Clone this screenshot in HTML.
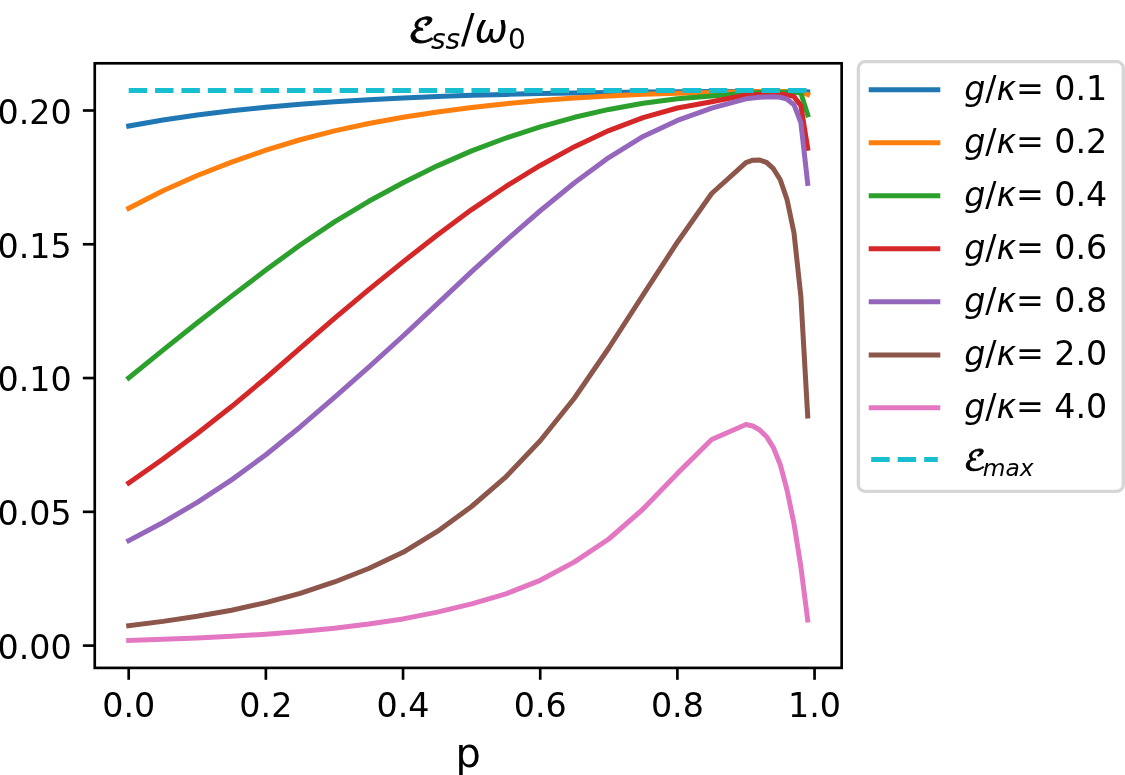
<!DOCTYPE html>
<html lang="en"><head><meta charset="utf-8"><title>Steady-state ergotropy vs p</title>
<style>
html,body{margin:0;padding:0;background:#fff;}
body{width:1125px;height:775px;overflow:hidden;}
svg{display:block;}
text{font-family:"DejaVu Sans","Liberation Sans",sans-serif;fill:#000;}
.it{font-style:oblique;}
</style></head><body>
<svg width="1125" height="775" viewBox="0 0 1125 775">
<rect width="1125" height="775" fill="#ffffff"/>
<defs><clipPath id="axclip"><rect x="94.75" y="63.3" width="746.9" height="604.6"/></clipPath></defs>
<g clip-path="url(#axclip)" fill="none" stroke-width="5.00" stroke-linecap="square" stroke-linejoin="round">
<polyline points="128.70,125.99 162.99,120.00 197.29,115.01 231.58,110.81 265.87,107.24 300.16,104.21 334.46,101.70 368.75,99.67 403.04,97.98 437.34,96.55 471.63,95.36 505.92,94.39 540.22,93.59 574.51,92.92 608.80,92.39 643.10,91.98 677.39,91.70 711.68,91.45 745.97,91.45 752.83,91.45 759.69,91.45 766.55,91.45 773.41,91.45 780.27,91.45 787.13,91.45 793.98,91.45 800.84,91.45 807.70,91.85" stroke="#1f77b4"/>
<polyline points="128.70,208.28 162.99,190.82 197.29,175.54 231.58,162.08 265.87,150.20 300.16,139.76 334.46,130.90 368.75,123.55 403.04,117.32 437.34,111.97 471.63,107.45 505.92,103.70 540.22,100.58 574.51,97.98 608.80,95.88 643.10,94.28 677.39,93.14 711.68,92.50 745.97,91.80 752.83,91.67 759.69,91.55 766.55,91.50 773.41,91.50 780.27,91.50 787.13,91.50 793.98,91.50 800.84,91.70 807.70,94.50" stroke="#ff7f0e"/>
<polyline points="128.70,377.87 162.99,350.10 197.29,322.82 231.58,296.11 265.87,270.06 300.16,245.01 334.46,221.90 368.75,201.29 403.04,182.72 437.34,165.84 471.63,150.90 505.92,138.01 540.22,126.86 574.51,117.31 608.80,109.42 643.10,103.26 677.39,98.82 711.68,95.90 745.97,93.30 752.83,92.88 759.69,92.51 766.55,92.30 773.41,92.23 780.27,92.20 787.13,92.20 793.98,92.20 800.84,93.10 807.70,114.80" stroke="#2ca02c"/>
<polyline points="128.70,482.98 162.99,459.02 197.29,433.55 231.58,406.55 265.87,377.98 300.16,348.15 334.46,318.33 368.75,289.64 403.04,261.89 437.34,234.94 471.63,209.58 505.92,186.46 540.22,165.45 574.51,146.68 608.80,130.57 643.10,117.59 677.39,108.03 711.68,101.80 745.97,95.00 752.83,94.70 759.69,94.50 766.55,94.30 773.41,94.30 780.27,94.30 787.13,94.80 793.98,96.60 800.84,105.50 807.70,148.30" stroke="#d62728"/>
<polyline points="128.70,540.66 162.99,522.52 197.29,502.35 231.58,479.87 265.87,454.76 300.16,426.96 334.46,397.41 368.75,367.16 403.04,336.01 437.34,303.85 471.63,271.68 505.92,240.57 540.22,210.74 574.51,182.69 608.80,157.52 643.10,136.44 677.39,120.42 711.68,108.10 745.97,98.80 752.83,97.90 759.69,97.30 766.55,96.90 773.41,96.80 780.27,97.30 787.13,99.20 793.98,104.70 800.84,122.50 807.70,183.40" stroke="#9467bd"/>
<polyline points="128.70,625.64 162.99,621.39 197.29,616.33 231.58,610.19 265.87,602.64 300.16,593.29 334.46,581.96 368.75,568.54 403.04,552.30 437.34,531.40 471.63,506.50 505.92,476.80 540.22,440.70 574.51,398.00 608.80,348.00 643.10,294.90 677.39,242.20 711.68,193.50 745.97,162.60 752.83,160.20 759.69,160.00 766.55,162.40 773.41,168.70 780.27,179.70 787.13,199.90 793.98,232.80 800.84,296.20 807.70,416.00" stroke="#8c564b"/>
<polyline points="128.70,640.47 162.99,639.34 197.29,637.98 231.58,636.30 265.87,634.20 300.16,631.53 334.46,628.19 368.75,624.09 403.04,618.91 437.34,612.11 471.63,603.90 505.92,593.80 540.22,580.30 574.51,561.90 608.80,539.00 643.10,509.00 677.39,473.40 711.68,439.50 745.97,424.50 752.83,426.00 759.69,430.00 766.55,436.70 773.41,447.60 780.27,464.70 787.13,490.50 793.98,523.70 800.84,566.50 807.70,620.00" stroke="#e377c2"/>
</g>
<line x1="128.70" y1="90.55" x2="807.70" y2="90.55" stroke="#17becf" stroke-width="5.0" stroke-dasharray="18.45 7.92" fill="none"/>
<rect x="94.75" y="63.3" width="746.90" height="604.60" fill="none" stroke="#000" stroke-width="2.67" stroke-linejoin="miter"/>
<g stroke="#000" stroke-width="2.67">
<line x1="128.70" y1="667.9" x2="128.70" y2="679.80"/>
<line x1="265.87" y1="667.9" x2="265.87" y2="679.80"/>
<line x1="403.04" y1="667.9" x2="403.04" y2="679.80"/>
<line x1="540.22" y1="667.9" x2="540.22" y2="679.80"/>
<line x1="677.39" y1="667.9" x2="677.39" y2="679.80"/>
<line x1="814.56" y1="667.9" x2="814.56" y2="679.80"/>
<line x1="94.75" y1="645.60" x2="82.85" y2="645.60"/>
<line x1="94.75" y1="511.83" x2="82.85" y2="511.83"/>
<line x1="94.75" y1="378.05" x2="82.85" y2="378.05"/>
<line x1="94.75" y1="244.27" x2="82.85" y2="244.27"/>
<line x1="94.75" y1="110.50" x2="82.85" y2="110.50"/>
</g>
<g font-size="33.33px">
<text transform="translate(128.70,716.6) scale(1,1.02)" text-anchor="middle">0.0</text>
<text transform="translate(265.87,716.6) scale(1,1.02)" text-anchor="middle">0.2</text>
<text transform="translate(403.04,716.6) scale(1,1.02)" text-anchor="middle">0.4</text>
<text transform="translate(540.22,716.6) scale(1,1.02)" text-anchor="middle">0.6</text>
<text transform="translate(677.39,716.6) scale(1,1.02)" text-anchor="middle">0.8</text>
<text transform="translate(814.56,716.6) scale(1,1.02)" text-anchor="middle">1.0</text>
<text transform="translate(71.7,658.90) scale(1,1.025)" text-anchor="end">0.00</text>
<text transform="translate(71.7,525.12) scale(1,1.025)" text-anchor="end">0.05</text>
<text transform="translate(71.7,391.35) scale(1,1.025)" text-anchor="end">0.10</text>
<text transform="translate(71.7,257.57) scale(1,1.025)" text-anchor="end">0.15</text>
<text transform="translate(71.7,123.80) scale(1,1.025)" text-anchor="end">0.20</text>
</g>
<text x="468.3" y="766.9" font-size="40px" text-anchor="middle">p</text>
<g font-size="40px"><text transform="translate(407.8,42.1) scale(1.22,1)" font-size="33px" style="font-family:'DejaVu Math TeX Gyre','DejaVu Sans',sans-serif" stroke="#000" stroke-width="0.9">ℰ</text><text x="430.9" y="49.0" font-size="28px" class="it">ss</text><text x="461.1" y="42.6">/</text><text x="474.6" y="42.4" class="it">ω</text><text x="508.0" y="49.0" font-size="28px">0</text></g>
<rect x="858.4" y="61.6" width="264.90" height="429.80" rx="6.67" ry="6.67" fill="#ffffff" fill-opacity="0.8" stroke="#cccccc" stroke-opacity="0.8" stroke-width="3.33"/>
<g stroke-width="5.0" stroke-linecap="square">
<line x1="871.2" y1="89.8" x2="937.8" y2="89.8" stroke="#1f77b4"/>
<line x1="871.2" y1="142.7" x2="937.8" y2="142.7" stroke="#ff7f0e"/>
<line x1="871.2" y1="195.7" x2="937.8" y2="195.7" stroke="#2ca02c"/>
<line x1="871.2" y1="248.8" x2="937.8" y2="248.8" stroke="#d62728"/>
<line x1="871.2" y1="301.8" x2="937.8" y2="301.8" stroke="#9467bd"/>
<line x1="871.2" y1="354.9" x2="937.8" y2="354.9" stroke="#8c564b"/>
<line x1="871.2" y1="407.7" x2="937.8" y2="407.7" stroke="#e377c2"/>
</g>
<line x1="871.2" y1="459.4" x2="937.8" y2="459.4" stroke="#17becf" stroke-width="5.0" stroke-dasharray="18.5 8"/>
<g font-size="33.33px">
<text x="964.3" y="99.80" letter-spacing="-0.1" xml:space="preserve"><tspan class="it">g</tspan>/<tspan class="it">κ</tspan>= 0.1</text>
<text x="964.3" y="152.70" letter-spacing="-0.1" xml:space="preserve"><tspan class="it">g</tspan>/<tspan class="it">κ</tspan>= 0.2</text>
<text x="964.3" y="205.70" letter-spacing="-0.1" xml:space="preserve"><tspan class="it">g</tspan>/<tspan class="it">κ</tspan>= 0.4</text>
<text x="964.3" y="258.80" letter-spacing="-0.1" xml:space="preserve"><tspan class="it">g</tspan>/<tspan class="it">κ</tspan>= 0.6</text>
<text x="964.3" y="311.80" letter-spacing="-0.1" xml:space="preserve"><tspan class="it">g</tspan>/<tspan class="it">κ</tspan>= 0.8</text>
<text x="964.3" y="364.90" letter-spacing="-0.1" xml:space="preserve"><tspan class="it">g</tspan>/<tspan class="it">κ</tspan>= 2.0</text>
<text x="964.3" y="417.70" letter-spacing="-0.1" xml:space="preserve"><tspan class="it">g</tspan>/<tspan class="it">κ</tspan>= 4.0</text>
<text transform="translate(963.4,470.1) scale(1.22,1)" font-size="27.5px" style="font-family:'DejaVu Math TeX Gyre','DejaVu Sans',sans-serif" stroke="#000" stroke-width="0.75">ℰ</text><text x="982.8" y="476.0" font-size="23.33px" class="it">max</text>
</g>
</svg>
</body></html>
